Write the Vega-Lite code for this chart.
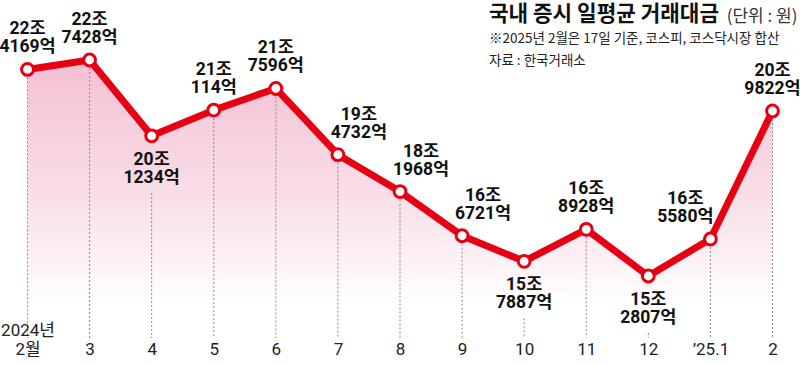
{
  "$schema": "https://vega.github.io/schema/vega-lite/v6.json",
  "width": 800,
  "height": 365,
  "padding": 0,
  "autosize": {"type": "none"},
  "background": "white",
  "config": {"view": {"stroke": null}},
  "title": {
    "text": "국내 증시 일평균 거래대금",
    "subtitle": ["※2025년 2월은 17일 기준, 코스피, 코스닥시장 합산", "자료 : 한국거래소"],
    "orient": "top",
    "anchor": "start",
    "frame": "group",
    "dx": 489,
    "offset": -67,
    "font": "Noto Sans CJK KR",
    "fontSize": 21.3,
    "fontWeight": "bold",
    "color": "#111111",
    "subtitleFont": "Noto Sans CJK KR",
    "subtitleFontSize": 13.5,
    "subtitleColor": "#222222",
    "subtitlePadding": 6,
    "subtitleLineHeight": 22
  },
  "data": {
    "values": [
      {"m": "2024년\n2월", "v": 224169, "label": "22조\n4169억", "pos": "above"},
      {"m": "3", "v": 227428, "label": "22조\n7428억", "pos": "above"},
      {"m": "4", "v": 201234, "label": "20조\n1234억", "pos": "below"},
      {"m": "5", "v": 210114, "label": "21조\n114억", "pos": "above"},
      {"m": "6", "v": 217596, "label": "21조\n7596억", "pos": "above"},
      {"m": "7", "v": 194732, "label": "19조\n4732억", "pos": "aboveRight"},
      {"m": "8", "v": 181968, "label": "18조\n1968억", "pos": "aboveRight"},
      {"m": "9", "v": 166721, "label": "16조\n6721억", "pos": "aboveRight"},
      {"m": "10", "v": 157887, "label": "15조\n7887억", "pos": "below"},
      {"m": "11", "v": 168928, "label": "16조\n8928억", "pos": "above"},
      {"m": "12", "v": 152807, "label": "15조\n2807억", "pos": "below"},
      {"m": "’25.1", "v": 165580, "label": "16조\n5580억", "pos": "aboveLeft"},
      {"m": "2", "v": 209822, "label": "20조\n9822억", "pos": "above"}
    ]
  },
  "encoding": {
    "x": {
      "field": "m",
      "type": "ordinal",
      "sort": null,
      "scale": {"type": "point", "padding": 0.443},
      "axis": {
        "title": null,
        "domain": false,
        "ticks": false,
        "grid": false,
        "zindex": 1,
        "labelAngle": 0,
        "labelExpr": "indexof(datum.label, '\\n') >= 0 ? split(datum.label, '\\n') : ['', datum.label]",
        "labelBaseline": "bottom",
        "labelPadding": -26,
        "labelFont": "Roboto, Noto Sans CJK KR",
        "labelFontSize": 17,
        "labelLineHeight": 19,
        "labelColor": "#222222",
        "labelOverlap": false
      }
    },
    "y": {
      "field": "v",
      "type": "quantitative",
      "scale": {"domain": [122060, 248156], "nice": false, "zero": false},
      "axis": {
        "orient": "right",
        "labels": false,
        "ticks": false,
        "domain": false,
        "grid": false,
        "title": "(단위 : 원)",
        "titleAngle": 0,
        "titleAlign": "right",
        "titleBaseline": "alphabetic",
        "titleX": -3,
        "titleY": 21,
        "titleFont": "Noto Sans CJK KR",
        "titleFontSize": 17,
        "titleFontWeight": "normal",
        "titleColor": "#333333"
      }
    }
  },
  "layer": [
    {
      "mark": {
        "type": "area",
        "color": {
          "gradient": "linear",
          "x1": 0, "y1": 0, "x2": 0, "y2": 1,
          "stops": [
            {"offset": 0, "color": "#f4c0d4"},
            {"offset": 0.5, "color": "#f9dfe9"},
            {"offset": 0.88, "color": "#ffffff"},
            {"offset": 1, "color": "#ffffff"}
          ]
        }
      },
      "encoding": {"y2": {"datum": 131387}}
    },
    {
      "transform": [{"filter": "datum.pos != 'below'"}],
      "mark": {"type": "rule", "color": "#8a8a8a", "strokeWidth": 1, "strokeDash": [2, 2]},
      "encoding": {"y2": {"datum": 131387}}
    },
    {
      "transform": [{"filter": "datum.pos == 'below'"}],
      "mark": {"type": "rule", "color": "#8a8a8a", "strokeWidth": 1, "strokeDash": [2, 2], "yOffset": 57, "clip": true},
      "encoding": {"y2": {"datum": 131387}}
    },
    {
      "mark": {"type": "line", "color": "#e60012", "strokeWidth": 7, "strokeJoin": "round"},
      "encoding": {}
    },
    {
      "mark": {"type": "point", "shape": "circle", "filled": true, "fill": "white", "stroke": "#e60012", "strokeWidth": 3, "size": 140, "opacity": 1}
    },
    {
      "transform": [{"filter": "datum.pos == 'above'"}],
      "mark": {"type": "text", "lineBreak": "\n", "baseline": "bottom", "dy": -31, "font": "Roboto, Noto Sans CJK KR", "fontSize": 17.5, "fontWeight": "bold", "lineHeight": 18, "color": "#111111"},
      "encoding": {"text": {"field": "label"}}
    },
    {
      "transform": [{"filter": "datum.pos == 'aboveRight'"}],
      "mark": {"type": "text", "lineBreak": "\n", "baseline": "bottom", "dy": -31, "dx": 21, "font": "Roboto, Noto Sans CJK KR", "fontSize": 17.5, "fontWeight": "bold", "lineHeight": 18, "color": "#111111"},
      "encoding": {"text": {"field": "label"}}
    },
    {
      "transform": [{"filter": "datum.pos == 'aboveLeft'"}],
      "mark": {"type": "text", "lineBreak": "\n", "baseline": "bottom", "dy": -31, "dx": -25, "font": "Roboto, Noto Sans CJK KR", "fontSize": 17.5, "fontWeight": "bold", "lineHeight": 18, "color": "#111111"},
      "encoding": {"text": {"field": "label"}}
    },
    {
      "transform": [{"filter": "datum.pos == 'below'"}],
      "mark": {"type": "text", "lineBreak": "\n", "baseline": "top", "dy": 15, "font": "Roboto, Noto Sans CJK KR", "fontSize": 17.5, "fontWeight": "bold", "lineHeight": 18, "color": "#111111"},
      "encoding": {"text": {"field": "label"}}
    },
    {
      "data": {"values": [{}]},
      "mark": {"type": "rule", "color": "#e60012", "strokeWidth": 5, "xOffset": 11.5},
      "encoding": {
        "x": {"datum": "9"},
        "y": {"datum": 248156},
        "y2": {"datum": 224664}
      }
    }
  ]
}
